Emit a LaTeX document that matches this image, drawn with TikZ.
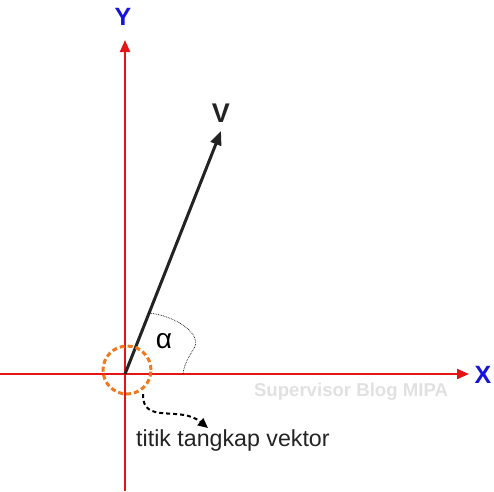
\documentclass[tikz,border=0pt]{standalone}
\usepackage{fontspec}
\setmainfont{Liberation Sans}
\usetikzlibrary{arrows.meta}
\definecolor{axisred}{RGB}{230,20,20}
\definecolor{lblblue}{RGB}{20,20,220}
\definecolor{vecgray}{RGB}{35,35,35}
\definecolor{circorange}{RGB}{240,120,30}
\definecolor{wmgray}{RGB}{225,225,225}
\tikzset{
  axis/.style={draw=axisred, line width=2pt, -{Triangle[length=12pt,width=10pt]}},
  axislbl/.style={text=lblblue, font=\fontsize{25}{27}\selectfont\bfseries, inner sep=0pt},
  vec/.style={draw=vecgray, line width=3pt, -{Triangle[length=14pt,width=11pt]}},
}
\begin{document}
\begin{tikzpicture}[x=1pt,y=-1pt]
\useasboundingbox (0,0) rectangle (494,491);
\coordinate (O) at (125,374);
\coordinate (xl) at (0,374);
\coordinate (xr) at (469,374);
\coordinate (yb) at (125,491);
\coordinate (yt) at (125,40);
\coordinate (vt) at (221,131);
% axes
\draw[axis] (xl) -- (xr);
\draw[axis] (yb) -- (yt);
\node[axislbl] (X) at (483,375) {X};
\node[axislbl] (Y) at (123,17) {Y};
% watermark
\node[text=wmgray, font=\fontsize{18.6}{20}\selectfont\bfseries, inner sep=0pt] (wm) at (351,392) {Supervisor Blog MIPA};
% vector
\draw[vec] (O) -- (vt);
\node[text=vecgray, font=\fontsize{27}{29}\selectfont\bfseries, inner sep=0pt] (V) at (221,113) {V};
% angle
\coordinate (a1) at (148,313);
\coordinate (a2) at (183,374);
\draw[densely dotted, line width=0.7pt, black] (a1) .. controls (175,315) and (205,335) .. (193,350) .. controls (188,358) and (184,365) .. (a2);
\node[font=\fontsize{28}{30}\selectfont, inner sep=0pt] (alpha) at (164,341) {α};
% orange circle
\node[draw=circorange, dashed, dash pattern=on 5pt off 3pt, line width=3pt, circle, minimum size=48pt, inner sep=0pt] (circ) at (127,370) {};
% label
\node[text=vecgray, font=\fontsize{23.2}{25}\selectfont, inner sep=0pt, anchor=west] (lbl) at (136,440) {titik tangkap vektor};
\coordinate (c1) at (143,394);
\coordinate (c2) at (208,428);
\draw[black, line width=2pt, dash pattern=on 4pt off 3pt, -{Triangle[length=10pt,width=9pt]}] (c1) .. controls (142,425) and (180,405) .. (c2);
\end{tikzpicture}
\end{document}
